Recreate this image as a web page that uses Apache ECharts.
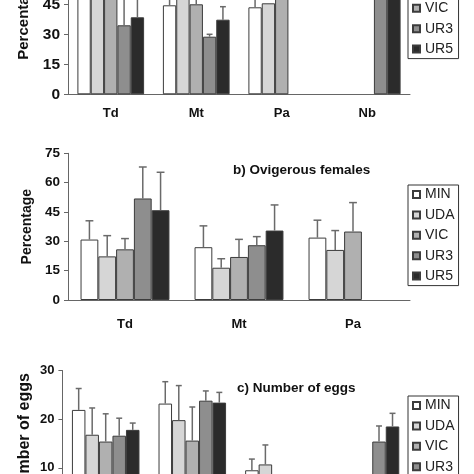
<!DOCTYPE html>
<html lang="en">
<head>
    <meta charset="UTF-8">
    <title>Percentage, ovigerous females, number of eggs</title>
    <script src="https://cdn.jsdelivr.net/npm/echarts@6/dist/echarts.min.js"></script>
    <style>
        * { margin: 0; padding: 0; }
        html, body { width: 100%; height: 100%; background: #fff; }
        #main { width: 474px; height: 474px; }
    </style>
</head>
<body>
<div id="main"></div>
<script>
    // groups (legend order)
    var groups = ['MIN', 'UDA', 'VIC', 'UR3', 'UR5'];
    var colors = ['#ffffff', '#d6d6d6', '#b0b0b0', '#8e8e8e', '#2b2b2b'];

    // a) top panel (cut off above ~47)
    var catsA = ['Td', 'Mt', 'Pa', 'Nb'];
    var meanA = [
        [55, 44.5, 43.5, null],
        [56, 52, 45.5, null],
        [53, 45, 50, null],
        [34.5, 28.8, null, 58],
        [38.5, 37.3, null, 62]
    ];
    var sdA = [
        [8, 8, 7, null],
        [8, 8, 0, null],
        [8, 5, 8, null],
        [13.5, 1.2, null, 8],
        [14, 6.5, null, 8]
    ];

    // b) ovigerous females
    var catsB = ['Td', 'Mt', 'Pa'];
    var meanB = [
        [30.9, 27, 31.9],
        [22.3, 16.5, 25.6],
        [25.9, 22, 35],
        [51.9, 28, null],
        [45.9, 35.5, null]
    ];
    var sdB = [
        [9.6, 10.9, 8.9],
        [10.6, 4.6, 9.9],
        [5.5, 9, 14.8],
        [16.1, 4.4, null],
        [19.4, 13.1, null]
    ];

    // c) number of eggs (cut off below ~9)
    var catsC = ['Td', 'Mt', 'Pa', 'Nb'];
    var meanC = [
        [21.9, 23.2, 9.5, null],
        [16.8, 19.8, 10.7, null],
        [15.4, 15.6, null, null],
        [16.6, 23.8, null, 15.4],
        [17.8, 23.4, null, 18.5]
    ];
    var sdC = [
        [4.4, 4.5, 2.3, null],
        [5.5, 7.1, 4, null],
        [5.7, 6.9, null, null],
        [3.6, 2, null, 3.2],
        [1.4, 2.1, null, 2.7]
    ];

    var FONT = 'Liberation Sans';
    var GAP = 0.22;
    var axisColor = '#666';

    var chart = echarts.init(document.getElementById('main'));

    var makeXAxis = function (idx, cats, margin) {
        return {
            type: 'category', gridIndex: idx, data: cats,
            axisLine: { lineStyle: { color: axisColor, width: 1 } },
            axisTick: { length: 4, lineStyle: { color: axisColor } },
            axisLabel: { margin: margin, fontFamily: FONT, fontWeight: 'bold', fontSize: 13, color: '#111' }
        };
    };
    var makeYAxis = function (idx, max, interval, name, fs, nfs) {
        return {
            type: 'value', gridIndex: idx, min: 0, max: max, interval: interval,
            name: name, nameLocation: 'middle', nameGap: 34,
            nameTextStyle: { fontFamily: FONT, fontWeight: 'bold', fontSize: nfs, color: '#111' },
            splitLine: { show: false },
            axisLine: { show: true, lineStyle: { color: axisColor, width: 1 } },
            axisTick: { show: true, length: 4, lineStyle: { color: axisColor } },
            axisLabel: { margin: 8, fontFamily: FONT, fontWeight: 'bold', fontSize: fs, color: '#111' }
        };
    };

    var series = [];
    var addPanel = function (idx, means, sds) {
        groups.forEach(function (g, k) {
            series.push({
                name: g, type: 'bar', xAxisIndex: idx, yAxisIndex: idx,
                data: means[k].map(function (v) { return v == null ? '-' : v; }),
                barGap: 0, barCategoryGap: (GAP * 100) + '%',
                itemStyle: { color: colors[k], borderColor: '#3c3c3c', borderWidth: 1 },
                animation: false
            });
        });
        groups.forEach(function (g, k) {
            var d = [];
            means[k].forEach(function (v, i) {
                if (v != null && sds[k][i]) d.push([i, v, sds[k][i]]);
            });
            series.push({
                type: 'custom', name: 'err', xAxisIndex: idx, yAxisIndex: idx,
                data: d, z: 5, animation: false, silent: true,
                encode: { x: 0, y: 1 },
                renderItem: function (params, api) {
                    var ci = api.value(0), m = api.value(1), s = api.value(2);
                    var p0 = api.coord([ci, m]);
                    var p1 = api.coord([ci, m + s]);
                    var band = api.size([1, 0])[0];
                    var bw = band * (1 - GAP) / groups.length;
                    var x = p0[0] + (k - 2) * bw;
                    var cap = bw * 0.22;
                    var st = { stroke: '#6a6a6a', lineWidth: 1.5 };
                    return {
                        type: 'group', children: [
                            { type: 'line', shape: { x1: x, y1: p0[1], x2: x, y2: p1[1] }, style: st },
                            { type: 'line', shape: { x1: x - cap, y1: p1[1], x2: x + cap, y2: p1[1] }, style: st }
                        ]
                    };
                }
            });
        });
    };
    addPanel(0, meanA, sdA);
    addPanel(1, meanB, sdB);
    addPanel(2, meanC, sdC);

    var makeLegend = function (top) {
        return {
            data: groups, orient: 'vertical', left: 408, top: top, height: 110,
            icon: 'rect', itemWidth: 7, itemHeight: 7, itemGap: 6.4,
            padding: [2.5, 4, 2.5, 4],
            borderColor: '#333', borderWidth: 1, backgroundColor: '#fff',
            selectedMode: false,
            textStyle: { fontFamily: FONT, fontSize: 14, lineHeight: 14, color: '#222' }
        };
    };

    var option = {
        animation: false,
        textStyle: { fontFamily: FONT },
        title: [
            { text: 'b) Ovigerous females', left: 233, top: 163,
              textStyle: { fontFamily: FONT, fontWeight: 'bold', fontSize: 13.5, color: '#111' }, padding: 0 },
            { text: 'c) Number of eggs', left: 237, top: 381,
              textStyle: { fontFamily: FONT, fontWeight: 'bold', fontSize: 13.5, color: '#111' }, padding: 0 }
        ],
        legend: [makeLegend(-42), makeLegend(185), makeLegend(396)],
        grid: [
            { left: 68, width: 342, top: -55.7, height: 150, outerBoundsMode: 'none' },
            { left: 68, width: 342, top: 153.3, height: 146.7, outerBoundsMode: 'none' },
            { left: 62.4, width: 346.4, top: 370.5, height: 146, outerBoundsMode: 'none' }
        ],
        xAxis: [makeXAxis(0, catsA, 13), makeXAxis(1, catsB, 18), makeXAxis(2, catsC, 13)],
        yAxis: [
            makeYAxis(0, 75, 15, 'Percentage', 15.5, 15),
            makeYAxis(1, 75, 15, 'Percentage', 13.5, 14),
            makeYAxis(2, 30, 10, '', 13, 14)
        ],
        graphic: [
            { type: 'text', x: 25, y: 434, rotation: Math.PI / 2,
              style: { text: 'Number of eggs', fontFamily: FONT, fontWeight: 'bold', fontSize: 16,
                       fill: '#111', textAlign: 'center', textVerticalAlign: 'middle' } }
        ],
        series: series
    };
    chart.setOption(option);
</script>
</body>
</html>
